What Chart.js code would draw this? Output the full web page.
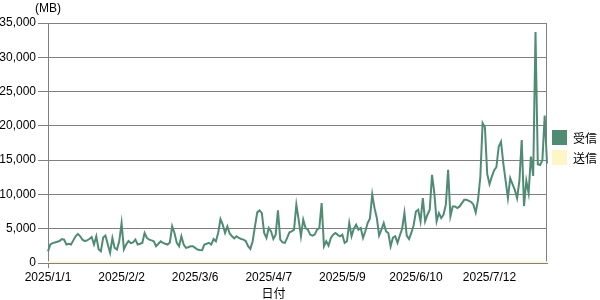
<!DOCTYPE html>
<html><head><meta charset="utf-8">
<script src="https://cdn.jsdelivr.net/npm/chart.js@4"></script>
<style>html,body{margin:0;padding:0;background:#fff}canvas{display:block}</style>
</head><body>
<canvas id="c" width="600" height="300"></canvas>
<script>
// ---- data ----
const startDate = [2025, 1, 1];
const received = [
 1700,2700,2900,3000,3100,3200,3500,3400,2700,2800,
 2700,3300,3900,4250,3900,3400,3200,3300,3500,3800,
 2700,3900,2000,1700,3700,4000,2700,1500,3650,2200,
 1960,3200,5830,2000,2700,3200,2900,3000,3400,2700,
 2800,2930,4380,3650,3400,3300,3170,2440,2800,3170,
 2930,2800,2690,3000,5350,4380,2930,2440,3900,2690,
 2200,2300,2440,2440,2200,1960,1900,1860,2690,2800,
 2930,2690,3500,3170,4380,6410,5590,4380,5350,4300,
 3900,3600,3900,3650,3500,3410,3200,2440,2060,3170,
 5350,7380,7670,7280,4380,3650,5110,4620,3510,4140,
 7670,3410,3020,2930,3650,4480,4620,4860,8490,6320,
 3900,6320,5110,4860,4140,3990,4140,4860,5110,8740,
 2440,3170,2540,3650,4140,4380,4100,3900,4140,2930,
 3170,5830,3900,5000,5590,4860,5110,3650,4620,5830,
 6500,10000,8000,6560,4000,4860,5830,4620,4380,2440,
 3700,3900,2930,4000,5000,7300,4000,3500,4380,5500,
 7500,7770,6070,9460,6070,7040,7770,12850,10190,6070,
 7280,6560,7040,8490,13580,6800,8250,8250,8010,8250,
 8740,9210,9210,9070,8900,8500,7380,9210,12500,20400,
 19800,13000,11500,12600,13500,14000,16960,17690,14540,12000,
 9460,12370,11500,10670,9460,12000,17930,8300,12000,10190,
 15510,12700,33670,14400,14300,15000,21500,14500
];
const sent = [
 30,30,40,30,30,30,40,30,30,30,
 30,40,30,30,30,40,30,30,30,30,
 40,30,30,30,30,40,30,30,30,30,
 40,30,30,30,30,30,40,30,30,30,
 30,40,30,30,30,30,40,30,30,30,
 30,30,40,30,30,30,30,40,30,30,
 30,30,30,40,30,30,30,30,40,30,
 30,30,30,30,40,30,30,30,30,40,
 30,30,30,30,30,40,30,30,30,30,
 40,30,30,30,30,30,40,30,30,30,
 30,40,30,30,30,30,40,30,30,30,
 30,30,40,30,30,30,30,40,30,30,
 30,30,30,40,30,30,30,30,40,30,
 30,30,30,30,40,30,30,30,30,40,
 30,30,30,30,30,40,30,30,30,30,
 40,30,30,30,30,30,40,30,30,30,
 30,40,30,30,30,30,40,30,30,30,
 30,30,40,30,30,30,30,40,30,30,
 30,30,30,40,30,30,30,30,40,30,
 30,30,30,30,40,30,30,30,30,40,
 30,30,30,30,30,40,30,30,30,30,
 40,30,30,30,30,30,40,30
];
const seriesNames = ['受信', '送信'];
const xTitle = '日付';
const yUnit = '(MB)';
const xTickLabels = ['2025/1/1','2025/2/2','2025/3/6','2025/4/7','2025/5/9','2025/6/10','2025/7/12'];
const yTickValues = [0,5000,10000,15000,20000,25000,30000,35000];

// categories (one per day)
const categories = [];
{
  const d = new Date(startDate[0], startDate[1]-1, startDate[2]);
  for (let i = 0; i < received.length; i++) {
    categories.push(d.getFullYear() + '/' + (d.getMonth()+1) + '/' + d.getDate());
    d.setDate(d.getDate()+1);
  }
}

// ---- style ----
const GREEN = 'rgb(80,140,115)';
const YELLOW = 'rgb(255,246,200)';
const GRID = '#808080';
const FONT = "'Liberation Sans', Arial, sans-serif";
const CJK = "'Noto Sans CJK JP', 'Liberation Sans', sans-serif";

const decor = {
  id: 'decor',
  beforeDatasetsDraw(chart) {
    const {ctx, chartArea: a} = chart;
    ctx.save();
    ctx.strokeStyle = GRID; ctx.lineWidth = 1;
    ctx.beginPath();
    ctx.moveTo(Math.round(a.right) - 0.5, a.top);
    ctx.lineTo(Math.round(a.right) - 0.5, a.bottom);
    ctx.stroke();
    ctx.restore();
  },
  afterDraw(chart) {
    const {ctx, chartArea: a} = chart;
    ctx.save();
    ctx.fillStyle = '#000';
    ctx.font = '12px ' + FONT;
    ctx.textAlign = 'center'; ctx.textBaseline = 'middle';
    ctx.fillText(yUnit, a.left, 9);
    ctx.font = '12px ' + CJK;
    ctx.fillText(xTitle, a.right / 2, 293);
    // legend
    const colors = [GREEN, YELLOW];
    ctx.textAlign = 'left';
    seriesNames.forEach((n, i) => {
      const y = 130 + i * 20;
      ctx.fillStyle = colors[i];
      ctx.fillRect(a.right + 5, y, 15, 15);
      ctx.fillStyle = '#000';
      ctx.fillText(n, a.right + 26, y + 8);
    });
    ctx.restore();
  }
};

new Chart(document.getElementById('c').getContext('2d'), {
  type: 'line',
  data: {
    labels: categories,
    datasets: [
      {label: seriesNames[0], data: received, borderColor: GREEN, backgroundColor: GREEN,
       borderWidth: 2, pointRadius: 0, tension: 0, fill: false},
      {label: seriesNames[1], data: sent, borderColor: YELLOW, backgroundColor: YELLOW,
       borderWidth: 3, pointRadius: 0, tension: 0, fill: false}
    ]
  },
  options: {
    responsive: false, animation: false, devicePixelRatio: 1,
    layout: {padding: {top: 23, right: 53, left: 0, bottom: 0}},
    plugins: {legend: {display: false}, tooltip: {enabled: false}},
    scales: {
      x: {
        type: 'category', offset: false,
        grid: {
          color: c => (c.tick && xTickLabels.includes(categories[c.index])) ? GRID : 'rgba(0,0,0,0)',
          lineWidth: 1, tickLength: 5
        },
        border: {color: GRID},
        ticks: {
          autoSkip: false, maxRotation: 0, minRotation: 0, color: '#000', padding: 2,
          font: {family: FONT, size: 12},
          callback: function(v, i) { const l = categories[i]; return xTickLabels.includes(l) ? l : null; }
        },
        afterFit(s) { s.height = 37; }
      },
      y: {
        min: 0, max: 35000,
        afterBuildTicks(s) { s.ticks = yTickValues.map(v => ({value: v})); },
        grid: {color: GRID, lineWidth: 1, tickLength: 10},
        border: {color: GRID},
        ticks: {
          color: '#000', padding: 2, font: {family: FONT, size: 12},
          callback: v => v.toString().replace(/\B(?=(\d{3})+(?!\d))/g, ',')
        },
        afterFit(s) { s.width = 48; }
      }
    }
  },
  plugins: [decor]
});
</script>
</body></html>
